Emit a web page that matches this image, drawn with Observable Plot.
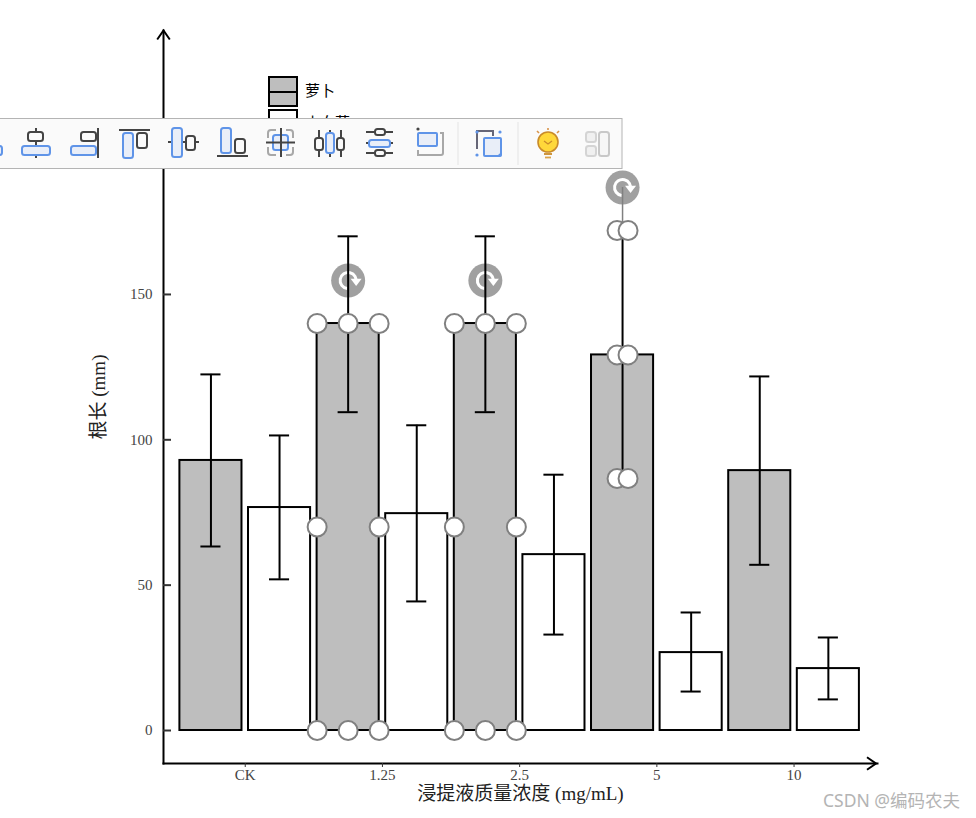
<!DOCTYPE html>
<html>
<head>
<meta charset="utf-8">
<script src="https://cdn.jsdelivr.net/npm/d3@7"></script>
<script src="https://cdn.jsdelivr.net/npm/@observablehq/plot@0.6"></script>
<style>
html,body{margin:0;padding:0;background:#fff}
#page{position:relative;width:976px;height:818px;overflow:hidden;background:#fff}
#chart{position:absolute;left:0;top:0}
.legend{position:absolute;left:268px;font:15px "Liberation Serif","Noto Sans CJK SC",serif;color:#000}
.sw{position:absolute;left:0;width:26px;height:27px;border:2px solid #000}
.lb{position:absolute;left:37px;white-space:nowrap}
#tools{position:absolute;left:0;top:0}
#mark{position:absolute;right:16px;top:787px;font:17.5px "Noto Sans","Noto Sans CJK SC",sans-serif;color:#b4b4b4;white-space:nowrap}
</style>
</head>
<body>
<div id="page">
  <div id="chart"></div>
  <div class="legend" style="top:0;height:0">
    <div class="sw" style="top:76px;background:#bebebe"><div style="position:absolute;left:0;right:0;top:12.5px;height:2px;background:#000"></div></div>
    <div class="lb" style="top:79px;letter-spacing:0">萝卜</div>
    <div class="sw" style="top:109px;background:#fff"></div>
    <div class="lb" style="top:111px">小白菜</div>
  </div>
  <div id="tools"></div>
  <div id="mark">CSDN @编码农夫</div>
</div>
<script>
const groups = ["CK", "1.25", "2.5", "5", "10"];
const seriesNames = ["萝卜", "小白菜"];
const seriesFill = ["#bebebe", "#ffffff"];
const radish = [92.9, 140, 140, 129.2, 89.4];
const radishUpper = [122.5, 170, 170, 172, 121.8];
const radishLower = [63.3, 109.5, 109.5, 86.7, 57];
const cabbage = [76.7, 74.6, 60.5, 26.8, 21.3];
const cabbageUpper = [101.5, 105, 88, 40.6, 32];
const cabbageLower = [52, 44.4, 33, 13.4, 10.7];
const yTicks = [0, 50, 100, 150, 200];
const xTitle = "浸提液质量浓度 (mg/mL)";
const yTitle = "根长 (mm)";

const key = (g, s) => `${g}|${s}`;
const rows = groups.flatMap((g, i) => [
  {key: key(g, seriesNames[0]), group: g, series: seriesNames[0], value: radish[i], hi: radishUpper[i], lo: radishLower[i]},
  {key: key(g, seriesNames[1]), group: g, series: seriesNames[1], value: cabbage[i], hi: cabbageUpper[i], lo: cabbageLower[i]}
]);
const selBars = rows.filter(d => d.series === seriesNames[0] && (d.group === "1.25" || d.group === "2.5"));
const selErr = rows.filter(d => d.series === seriesNames[0] && d.group === "5");
const rotOffset = 14.8;

const serif = '"Liberation Serif","Noto Sans CJK SC",serif';
const handle = {fill: "white", stroke: "#808080", strokeWidth: 2, r: 9.5};
const cornerPts = selBars.flatMap(d => [{key: d.key, y: 0}, {key: d.key, y: d.value}]);
const sidePts = selBars.flatMap(d => [{key: d.key, y: 0}, {key: d.key, y: d.value / 2}, {key: d.key, y: d.value}]);
const errPts = selErr.flatMap(d => [{key: d.key, y: d.hi}, {key: d.key, y: d.value}, {key: d.key, y: d.lo}]);
const rotPts = [
  ...selBars.map(d => ({key: d.key, y: d.value + rotOffset})),
  ...selErr.map(d => ({key: d.key, y: d.hi + rotOffset}))
];
const arrowUp = {draw(c, size) {const r = Math.sqrt(size / Math.PI); c.moveTo(-r * .7, r); c.lineTo(0, 0); c.lineTo(r * .7, r);}};
const arrowRight = {draw(c, size) {const r = Math.sqrt(size / Math.PI); c.moveTo(-r, -r * .7); c.lineTo(0, 0); c.lineTo(-r, r * .7);}};
const ringArc = {draw(c, size) {const r = Math.sqrt(size / Math.PI); c.moveTo(r * .95, r * .3); c.arc(0, 0, r, 0.3, 0.3 - 4.9, true);}};
const ringTip = {draw(c, size) {const r = Math.sqrt(size / Math.PI); c.moveTo(-r, -r * .5); c.lineTo(r, -r * .5); c.lineTo(0, r * .8); c.closePath();}};

const plot = Plot.plot({
  width: 976, height: 818,
  marginLeft: 163, marginRight: 99, marginTop: 30, marginBottom: 55,
  style: {background: "transparent", fontFamily: serif},
  x: {type: "band", domain: rows.map(d => d.key), range: [179.4, 858.9], paddingInner: 0.095, paddingOuter: 0, round: false, label: null},
  y: {domain: [-11.35, 240.8], range: [763, 30], label: null},
  marks: [
    Plot.frame({anchor: "left", stroke: "#000", strokeWidth: 2}),
    Plot.frame({anchor: "bottom", stroke: "#000", strokeWidth: 2}),
    Plot.dot([0], {frameAnchor: "top-left", symbol: arrowUp, r: 9, stroke: "#000", fill: "none", strokeWidth: 2}),
    Plot.dot([0], {frameAnchor: "bottom-right", dx: -1.5, symbol: arrowRight, r: 9, stroke: "#000", fill: "none", strokeWidth: 2}),
    Plot.axisY({anchor: "left", ticks: yTicks, tickSize: -8, tickPadding: 19, fontSize: 15, stroke: "#333", strokeWidth: 2, fill: "#444", label: null}),
    Plot.axisX({anchor: "bottom", ticks: rows.filter(d => d.series === seriesNames[0]).map(d => d.key), dx: 34.3, tickSize: 4, tickPadding: 2, fontSize: 15, fill: "#444", stroke: "#333", tickFormat: k => k.split("|")[0], label: null}),
    Plot.text([xTitle], {frameAnchor: "bottom", textAnchor: "middle", dy: 36, fontSize: 19, fill: "#222", fontFamily: serif}),
    Plot.text([yTitle], {frameAnchor: "left", textAnchor: "middle", dx: -65, rotate: -90, fontSize: 19, fill: "#222", fontFamily: serif}),
    Plot.barY(rows, {x: "key", y1: 0, y2: "value", fill: d => seriesFill[seriesNames.indexOf(d.series)], stroke: "#000", strokeWidth: 2}),
    Plot.dot(rotPts, {x: "key", y: "y", r: 17, fill: "#a0a0a0"}),
    Plot.dot(rotPts, {x: "key", y: "y", r: 8, symbol: ringArc, fill: "none", stroke: "white", strokeWidth: 3}),
    Plot.dot(rotPts, {x: "key", y: "y", dx: 8, dy: 1, r: 5.5, symbol: ringTip, fill: "white"}),
    Plot.ruleX(selErr, {x: "key", y1: "hi", y2: d => d.hi + rotOffset, stroke: "#808080", strokeWidth: 1.5}),
    Plot.ruleX(rows, {x: "key", y1: "lo", y2: "hi", stroke: "#000", strokeWidth: 2}),
    Plot.tickY(rows, {x: "key", y: "hi", stroke: "#000", strokeWidth: 2, insetLeft: 21, insetRight: 21}),
    Plot.tickY(rows, {x: "key", y: "lo", stroke: "#000", strokeWidth: 2, insetLeft: 21, insetRight: 21}),
    Plot.dot(sidePts, {x: "key", y: "y", dx: -31, ...handle}),
    Plot.dot(cornerPts, {x: "key", y: "y", ...handle}),
    Plot.dot(sidePts, {x: "key", y: "y", dx: 31, ...handle}),
    Plot.dot(errPts, {x: "key", y: "y", dx: -5.5, ...handle}),
    Plot.dot(errPts, {x: "key", y: "y", dx: 5.5, ...handle})
  ]
});
document.getElementById("chart").append(plot);

// editor toolbar overlay
const B = "#5f94e8", BF = "#e9eef8", D = "#444", G = "#a8a8a8";
const box = (x1, y1, x2, y2, s = D, f = "none", sw = 2, rx = 2.5) => `<rect x="${x1}" y="${y1}" width="${x2 - x1}" height="${y2 - y1}" rx="${rx}" stroke="${s}" fill="${f}" stroke-width="${sw}"/>`;
const ln = (x1, y1, x2, y2, s = D, sw = 2) => `<line x1="${x1}" y1="${y1}" x2="${x2}" y2="${y2}" stroke="${s}" stroke-width="${sw}"/>`;
const dot = (x, y, s = B, r = 1.6) => `<circle cx="${x}" cy="${y}" r="${r}" fill="${s}"/>`;
let s = `<rect x="-3" y="118.5" width="625" height="50" fill="#fafafa" stroke="#b4b4b4"/>`;
s += box(-12, 146, 2, 155, B, BF);
s += ln(36, 128, 36, 158) + box(28, 132, 43, 141, D, "#fafafa") + box(22, 146, 50, 155, B, BF);
s += ln(98, 128, 98, 158) + box(81, 132, 96, 141) + box(71, 146, 96, 155, B, BF);
s += ln(119, 130, 150, 130) + box(123, 133, 133, 158, B, BF) + box(137, 133, 147, 148);
s += ln(168, 142, 199, 142) + box(172, 128, 182, 157, B, BF) + box(186, 136, 195, 150, D, "#fafafa");
s += ln(217, 156, 248, 156) + box(221, 128, 231, 153, B, BF) + box(235, 139, 245, 153);
s += box(268, 130, 293, 155, G, "none", 2, 3) + `<g stroke="#fafafa" stroke-width="4"><line x1="276" y1="130" x2="286" y2="130"/><line x1="276" y1="155" x2="286" y2="155"/><line x1="268" y1="138" x2="268" y2="147"/><line x1="293" y1="138" x2="293" y2="147"/></g>`;
s += box(273, 135, 288, 150, B, BF) + ln(266, 142.5, 295, 142.5) + ln(281, 128, 281, 157);
s += ln(319, 130, 319, 157) + ln(330, 130, 330, 157) + ln(341, 130, 341, 157) + box(315, 138, 323, 150, D, "#fafafa") + box(326, 133, 334, 153, B, BF) + box(337, 138, 344, 150, D, "#fafafa");
s += ln(366, 132, 393, 132) + ln(366, 143, 393, 143) + ln(366, 153, 393, 153) + box(375, 129, 385, 135, D, "#fafafa") + box(369, 140, 390, 147, B, BF) + box(375, 150, 385, 156, D, "#fafafa");
s += dot(418, 129, D) + `<path d="M440 133h3v20a2 2 0 0 1-2 2h-23v-5" fill="none" stroke="${G}" stroke-width="2"/>` + box(418, 133, 437, 146, B, BF, 2, 1);
s += ln(458, 122, 458, 165, "#e4e4e4", 1) + ln(518, 122, 518, 165, "#e4e4e4", 1);
s += `<path d="M478 148h-1v-17h16v5" fill="none" stroke="#667" stroke-width="2"/>` + box(484, 138, 501, 156, B, BF, 2, 1);
s += dot(477, 132) + dot(500, 132) + dot(477, 155) + dot(500, 155);
s += `<circle cx="548" cy="142" r="10" fill="#ffd83a" stroke="#c98b2a" stroke-width="1.6"/><path d="M544 141l4 3 4-3" fill="none" stroke="#c98b2a" stroke-width="1.3"/>`;
s += ln(544, 154, 552, 154, "#c98b2a", 1.8) + ln(545, 157.5, 551, 157.5, "#d9a24a", 1.8) + ln(548, 128, 548, 130, "#d9944a", 1.6) + ln(537, 131, 539, 133, "#d9944a", 1.6) + ln(559, 131, 557, 133, "#d9944a", 1.6);
s += box(586, 132, 596, 142, "#d4d4d4", "#f0f0f0") + box(586, 146, 596, 156, "#d4d4d4", "#f0f0f0") + box(599, 132, 609, 156, "#c8c8c8", "#f6f6f6");
document.getElementById("tools").innerHTML = `<svg width="976" height="818" style="display:block">${s}</svg>`;
</script>
</body>
</html>
